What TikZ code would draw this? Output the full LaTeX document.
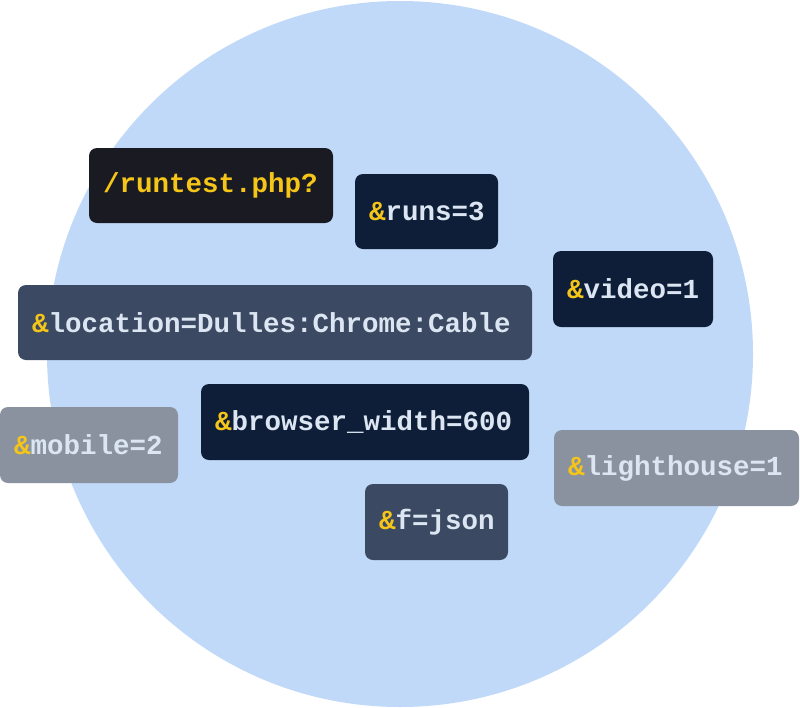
\documentclass[tikz,border=0pt]{standalone}
\usepackage{fontspec}
\setmonofont{Liberation Mono}
\definecolor{bg}{HTML}{C0D9F8}
\definecolor{blk}{HTML}{1A1B22}
\definecolor{navy}{HTML}{0F1E38}
\definecolor{slate}{HTML}{3B4A62}
\definecolor{gry}{HTML}{8A929F}
\definecolor{yel}{HTML}{F5C518}
\definecolor{txt}{HTML}{DCE6F2}
\begin{document}
\begin{tikzpicture}[x=1pt,y=-1pt,
  tag/.style={rounded corners=8pt},
  lbl/.style={anchor=west,inner sep=0pt,font=\fontsize{27.5}{30}\selectfont\ttfamily\bfseries,text=txt}]
\useasboundingbox (0,0) rectangle (800,707);
\fill[bg] (400,354) circle[radius=353];
\fill[tag,blk] (89,148) rectangle (333,223);
\node[lbl,text=yel] (run) at (103,185.5) {/runtest.php?};
\fill[tag,navy] (355,174) rectangle (498,249);
\node[lbl] (runs) at (369,211.5) {\textcolor{yel}{\&}runs=3};
\fill[tag,navy] (553,251) rectangle (713,327);
\node[lbl] (video) at (567,289) {\textcolor{yel}{\&}video=1};
\fill[tag,slate] (18,285) rectangle (532,360);
\node[lbl] (loc) at (32,322.5) {\textcolor{yel}{\&}location=Dulles:Chrome:Cable};
\fill[tag,navy] (201,384) rectangle (529,460);
\node[lbl] (bw) at (215,422) {\textcolor{yel}{\&}browser\_width=600};
\fill[tag,gry] (0,407) rectangle (178,483);
\node[lbl] (mob) at (14,445) {\textcolor{yel}{\&}mobile=2};
\fill[tag,gry] (554,430) rectangle (799,506);
\node[lbl] (lh) at (568,468) {\textcolor{yel}{\&}lighthouse=1};
\fill[tag,slate] (365,484) rectangle (508,560);
\node[lbl] (f) at (379,522) {\textcolor{yel}{\&}f=json};
\end{tikzpicture}
\end{document}
